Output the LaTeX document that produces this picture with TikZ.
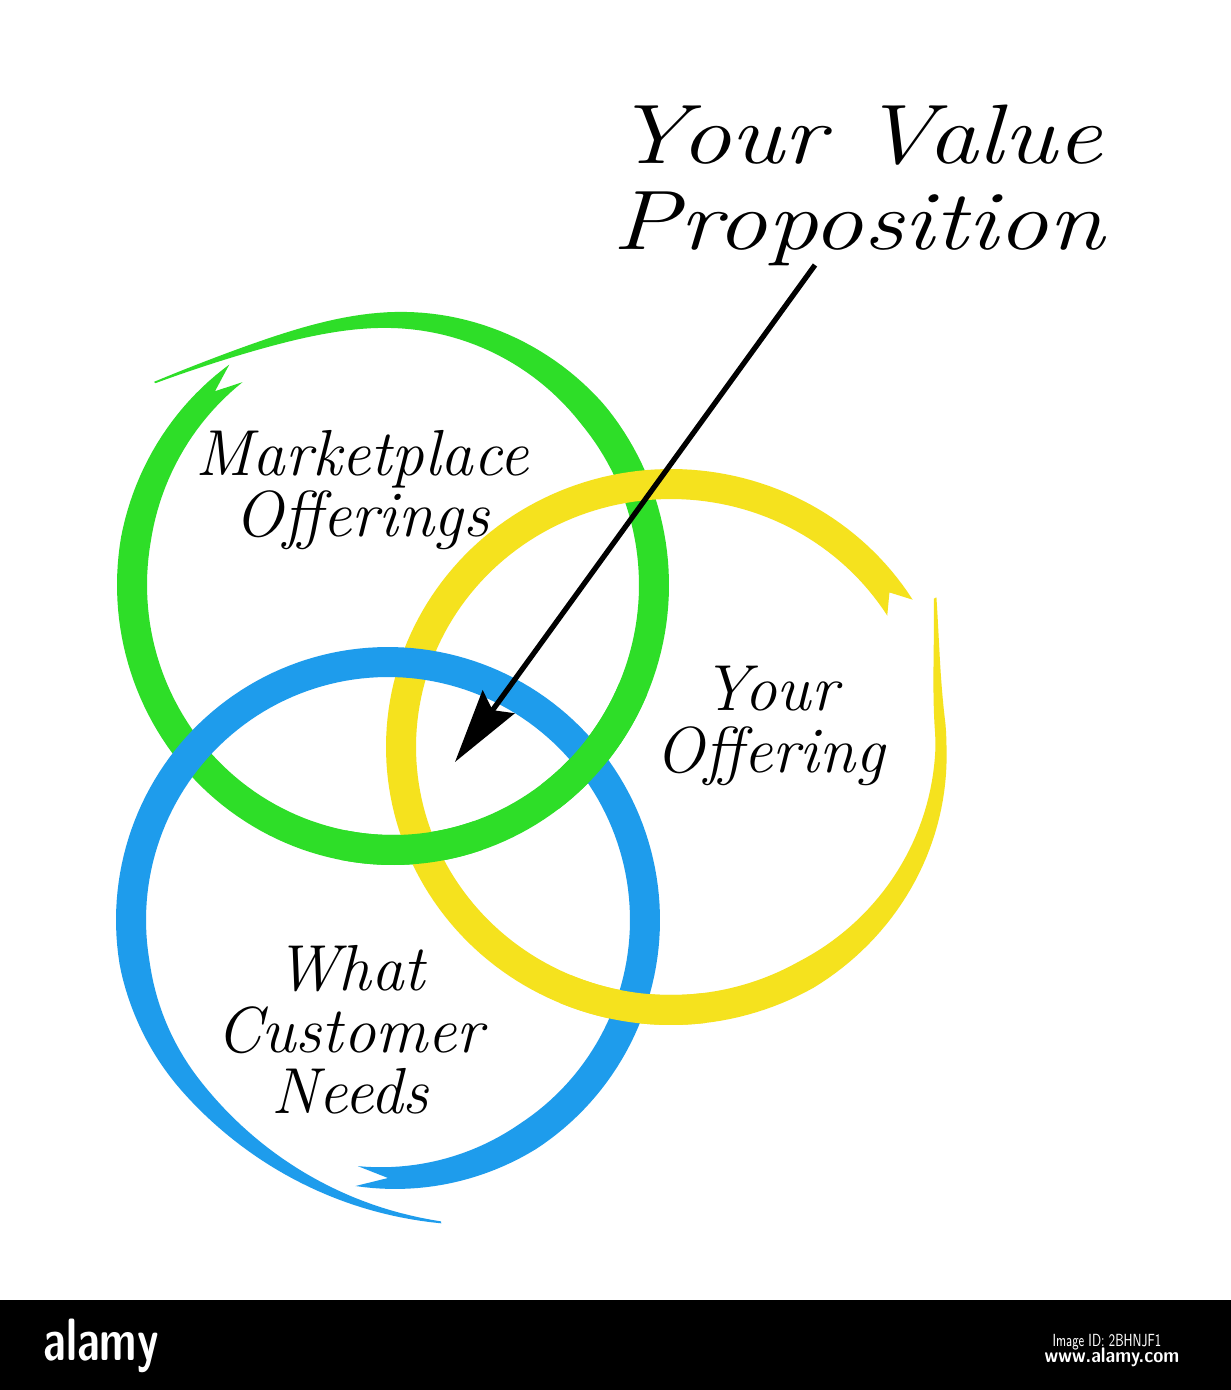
\documentclass[tikz,border=0pt]{standalone}
\usepackage{fontspec}
\usepackage{graphicx}
\usetikzlibrary{arrows.meta}

\definecolor{ringgreen}{RGB}{46,222,40}
\definecolor{ringyellow}{RGB}{245,226,30}
\definecolor{ringblue}{RGB}{30,156,236}

\tikzset{
  headtext/.style={align=center, font=\fontsize{24}{24.5}\selectfont\itshape},
  labeltext/.style={align=center, font=\fontsize{18.5}{17.5}\selectfont\itshape},
  barnote/.style={text=white, anchor=east, inner sep=0pt},
  arrowline/.style={line width=1.5pt, -{Stealth[length=7.4mm,width=3.9mm,inset=1mm]}},
}
\newcommand\wide[1]{\scalebox{1.2}[1]{#1}}

\begin{document}
\begin{tikzpicture}[x=0.01cm,y=-0.01cm,
  declare function={
    gext(\t)=(0.0737*max(0,\t-450))^3;
    gw(\t)=min(22+8*min(1,(\t-127)/43),2+28*min(1,(500-\t)/100));
    gx(\t,\s)=393+(261+gext(\t)+\s*gw(\t)/2)*cos(\t);
    gy(\t,\s)=585-(265+gext(\t)+\s*gw(\t)/2)*sin(\t);
    yext(\t)=35*(max(0,\t-5)/25)^2;
    yw(\t)=(\t>5)?(3+8*(30-\t)/25):(11+19*min(1,max(0,(0-\t)/60)));
    yx(\t,\s)=671+(270+yext(\t)+\s*yw(\t)/2)*cos(\t);
    yy(\t,\s)=747-(263+yext(\t)+\s*yw(\t)/2)*sin(\t);
    bext(\t)=49*(max(0,\t-580)/60)^2;
    bw(\t)=min(20+10*min(1,(\t-263)/40),2+28*min(1,(640-\t)/90));
    bx(\t,\s)=388+(257+bext(\t)+\s*bw(\t)/2)*cos(\t);
    by(\t,\s)=920-(258+bext(\t)+\s*bw(\t)/2)*sin(\t);
  }]
\newcommand\ringseg[4]{% colour, ring, from, to
\fill[#1] plot[domain=#3:#4,samples=25] ({#2x(\x,1)},{#2y(\x,1)})
  -- plot[domain=#4:#3,samples=25] ({#2x(\x,-1)},{#2y(\x,-1)}) -- cycle;
}
\newcommand\ringcut[5]{% colour, ring, from, to, notch
\fill[#1] plot[domain=#3:#4,samples=200] ({#2x(\x,1)},{#2y(\x,1)})
  -- plot[domain=#4:#3,samples=200] ({#2x(\x,-1)},{#2y(\x,-1)})
  -- ({#2x(#5,0)},{#2y(#5,0)}) -- cycle;
}
\fill[white] (0,0) rectangle (1231,1390);
\useasboundingbox (0,0) rectangle (1231,1390);

% the three rings
\ringcut{ringgreen}{g}{127}{500}{133}
\ringcut{ringyellow}{y}{-328}{30}{-324}
\ringcut{ringblue}{b}{263}{640}{270}
% crossings where the lower ring comes back on top
\ringseg{ringgreen}{g}{259}{289}
\ringseg{ringgreen}{g}{307}{337}
\ringseg{ringyellow}{y}{-113}{-83}

\node[headtext] (title) at (858,185) {\wide{Your Value}\\\wide{Proposition}};
\node[labeltext] (market) at (362,490) {Marketplace\\Offerings};
\node[labeltext] (offer) at (770,726) {Your\\Offering};
\node[labeltext] (needs) at (350,1030) {What\\Customer\\Needs};

\coordinate (tail) at (815,265);
\coordinate (core) at (455,762);
\draw[arrowline] (tail) -- (core);

% stock bar
\fill[black] (0,1300) rectangle (1231,1390);
\node[text=white, font=\sffamily\bfseries\fontsize{17}{17}\selectfont] (logo) at (101,1346) {\scalebox{0.72}[1]{alamy}};
\node[barnote, font=\sffamily\fontsize{5}{6}\selectfont] (imgid) at (1162,1342) {\scalebox{0.68}[1]{Image ID: 2BHNJF1}};
\node[barnote, font=\sffamily\bfseries\fontsize{6}{7}\selectfont] (site) at (1180,1357) {\scalebox{0.87}[1]{www.alamy.com}};
\end{tikzpicture}
\end{document}
